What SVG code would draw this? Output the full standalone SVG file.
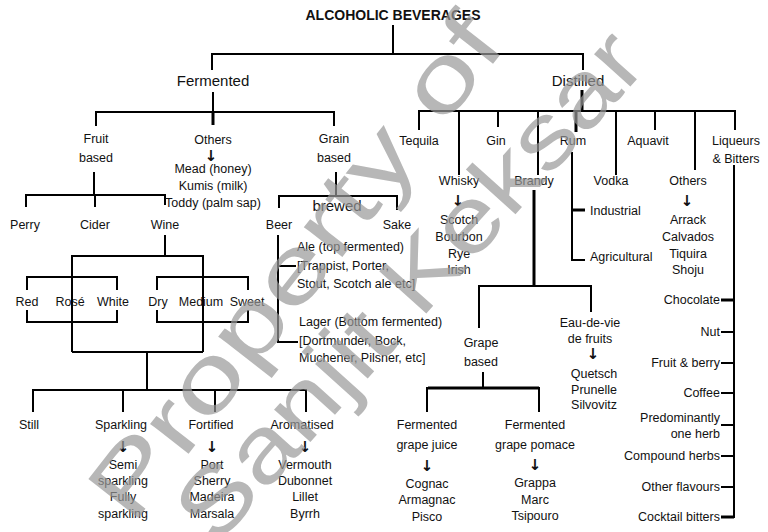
<svg xmlns="http://www.w3.org/2000/svg" width="768" height="532" viewBox="0 0 768 532">
<style>
text{font-family:"Liberation Sans",Arial,sans-serif;font-size:12.5px;fill:#111;text-anchor:middle}
.l{text-anchor:start}.r{text-anchor:end}
.big{font-size:15px}
.t{font-weight:bold;font-size:14px}
.a{font-family:"DejaVu Sans",sans-serif;font-size:15px;font-weight:bold}
.c line,.c polyline{stroke:#000;stroke-width:2;fill:none}
.c .k{stroke-width:3}
.wm{font-size:92px;fill:#999;opacity:0.7;text-anchor:start}
</style>
<rect width="768" height="532" fill="#fff"/>
<g class="c" id="connectors">
<line x1="393" y1="25" x2="393" y2="54"/>
<polyline points="212,70 212,54 583,54 583,70"/>
<line x1="213" y1="92" x2="213" y2="112"/>
<polyline points="96,126 96,112 334,112 334,126"/>
<line x1="213" y1="112" x2="213" y2="125" class="k"/>
<line x1="94" y1="172" x2="94" y2="195"/>
<polyline points="26,207 26,195 165,195 165,205"/>
<line x1="95" y1="195" x2="95" y2="207"/>
<line x1="336" y1="172" x2="336" y2="196"/>
<polyline points="279,208 279,196 397,196 397,210"/>
<polyline points="278,235 278,342 298,342"/>
<line x1="278" y1="266" x2="296" y2="266"/>
<line x1="165" y1="235" x2="165" y2="256"/>
<polyline points="72,352 72,256 203,256 203,352"/>
<polyline points="27,290 27,277 117,277 117,290"/>
<polyline points="27,310 27,322 117,322 117,310"/>
<polyline points="157,290 157,277 248,277 248,290"/>
<polyline points="157,310 157,322 248,322 248,310"/>
<line x1="72" y1="352" x2="203" y2="352"/>
<line x1="147" y1="352" x2="147" y2="390"/>
<polyline points="33,412 33,390 306,390 306,412"/>
<line x1="123" y1="390" x2="123" y2="412"/>
<line x1="215" y1="390" x2="215" y2="412"/>
<line x1="582" y1="90" x2="582" y2="111" class="k"/>
<polyline points="419,130 419,111 735,111 735,130"/>
<line x1="459" y1="111" x2="459" y2="175"/>
<line x1="498" y1="111" x2="498" y2="127"/>
<line x1="538" y1="111" x2="538" y2="175"/>
<line x1="576" y1="111" x2="576" y2="132" class="k"/>
<line x1="616" y1="111" x2="616" y2="175"/>
<line x1="655" y1="111" x2="655" y2="130"/>
<line x1="695" y1="111" x2="695" y2="170"/>
<polyline points="572,152 572,260 585,260"/>
<line x1="572" y1="210" x2="585" y2="210" class="k"/>
<line x1="534" y1="190" x2="534" y2="286" class="k"/>
<polyline points="479,328 479,286 591,286 591,312"/>
<line x1="483" y1="372" x2="483" y2="388"/>
<polyline points="427,412 427,388 539,388 539,412"/>
<line x1="428" y1="388" x2="539" y2="388" class="k"/>
<line x1="734" y1="165" x2="734" y2="518"/>
<line x1="721" y1="300" x2="734" y2="300" class="k"/>
<line x1="721" y1="332" x2="734" y2="332"/>
<line x1="721" y1="363" x2="734" y2="363"/>
<line x1="721" y1="393" x2="734" y2="393"/>
<line x1="721" y1="425" x2="734" y2="425"/>
<line x1="721" y1="456" x2="734" y2="456"/>
<line x1="721" y1="487" x2="734" y2="487"/>
<line x1="721" y1="517" x2="734" y2="517" class="k"/>
</g>
<g id="title"><text x="393" y="20" class="t">ALCOHOLIC BEVERAGES</text></g>
<g id="fermented"><text x="213" y="86" class="big">Fermented</text></g>
<g id="distilled"><text x="578" y="86" class="big">Distilled</text></g>
<g id="fruit"><text x="96" y="143">Fruit</text><text x="96" y="162">based</text></g>
<g id="others1"><text x="213" y="144">Others</text><text x="211" y="161" class="a">↓</text><text x="213" y="173">Mead (honey)</text><text x="213" y="190">Kumis (milk)</text><text x="213" y="207">Toddy (palm sap)</text></g>
<g id="grain"><text x="334" y="143">Grain</text><text x="334" y="162">based</text><text x="337" y="211" class="big">brewed</text></g>
<g id="perry"><text x="25" y="229">Perry</text></g>
<g id="cider"><text x="95" y="229">Cider</text></g>
<g id="wine"><text x="165" y="229">Wine</text></g>
<g id="beer"><text x="279" y="229">Beer</text></g>
<g id="sake"><text x="397" y="229">Sake</text></g>
<g id="ale"><text x="297" y="251" class="l">Ale (top fermented)</text><text x="297" y="270" class="l">[Trappist, Porter,</text><text x="297" y="288" class="l">Stout, Scotch ale etc]</text></g>
<g id="lager"><text x="299" y="326" class="l">Lager (Bottom fermented)</text><text x="299" y="345" class="l">[Dortmunder, Bock,</text><text x="299" y="362" class="l">Muchener, Pilsner, etc]</text></g>
<g id="colours"><text x="27" y="306">Red</text><text x="70" y="306">Rosé</text><text x="113" y="306">White</text></g>
<g id="sweetness"><text x="158" y="306">Dry</text><text x="201" y="306">Medium</text><text x="247" y="306">Sweet</text></g>
<g id="still"><text x="29" y="429">Still</text></g>
<g id="sparkling"><text x="121" y="429">Sparkling</text><text x="123" y="452" class="a">↓</text><text x="123" y="469">Semi</text><text x="123" y="485">sparkling</text><text x="123" y="501">Fully</text><text x="123" y="518">sparkling</text></g>
<g id="fortified"><text x="211" y="429">Fortified</text><text x="212" y="452" class="a">↓</text><text x="212" y="469">Port</text><text x="212" y="485">Sherry</text><text x="212" y="501">Madeira</text><text x="212" y="518">Marsala</text></g>
<g id="aromatised"><text x="302" y="429">Aromatised</text><text x="305" y="452" class="a">↓</text><text x="305" y="469">Vermouth</text><text x="305" y="485">Dubonnet</text><text x="305" y="501">Lillet</text><text x="305" y="518">Byrrh</text></g>
<g id="tequila"><text x="419" y="145">Tequila</text></g>
<g id="gin"><text x="496" y="145">Gin</text></g>
<g id="rum"><text x="573" y="145">Rum</text></g>
<g id="aquavit"><text x="648" y="145">Aquavit</text></g>
<g id="liqueurs"><text x="736" y="145">Liqueurs</text><text x="736" y="163">&amp; Bitters</text></g>
<g id="whisky"><text x="459" y="185">Whisky</text><text x="458" y="206" class="a">↓</text><text x="459" y="224">Scotch</text><text x="459" y="241">Bourbon</text><text x="459" y="258">Rye</text><text x="459" y="274">Irish</text></g>
<g id="brandy"><text x="534" y="185">Brandy</text></g>
<g id="vodka"><text x="611" y="185">Vodka</text></g>
<g id="others2"><text x="688" y="185">Others</text><text x="687" y="206" class="a">↓</text><text x="688" y="224">Arrack</text><text x="688" y="241">Calvados</text><text x="688" y="258">Tiquira</text><text x="688" y="274">Shoju</text></g>
<g id="industrial"><text x="590" y="215" class="l">Industrial</text></g>
<g id="agricultural"><text x="590" y="261" class="l">Agricultural</text></g>
<g id="eau"><text x="590" y="327">Eau-de-vie</text><text x="590" y="343">de fruits</text><text x="593" y="359" class="a">↓</text><text x="594" y="378">Quetsch</text><text x="594" y="394">Prunelle</text><text x="594" y="409">Silvovitz</text></g>
<g id="grape"><text x="481" y="347">Grape</text><text x="481" y="366">based</text></g>
<g id="juice"><text x="427" y="429">Fermented</text><text x="427" y="449">grape juice</text><text x="427" y="471" class="a">↓</text><text x="427" y="488">Cognac</text><text x="427" y="504">Armagnac</text><text x="427" y="521">Pisco</text></g>
<g id="pomace"><text x="535" y="429">Fermented</text><text x="535" y="449">grape pomace</text><text x="535" y="470" class="a">↓</text><text x="535" y="487">Grappa</text><text x="535" y="504">Marc</text><text x="535" y="520">Tsipouro</text></g>
<g id="liq-items">
<text x="720" y="304" class="r">Chocolate</text>
<text x="720" y="336" class="r">Nut</text>
<text x="720" y="367" class="r">Fruit &amp; berry</text>
<text x="720" y="397" class="r">Coffee</text>
<text x="720" y="422" class="r">Predominantly</text>
<text x="720" y="438" class="r">one herb</text>
<text x="720" y="460" class="r">Compound herbs</text>
<text x="720" y="491" class="r">Other flavours</text>
<text x="720" y="521" class="r">Cocktail  bitters</text>
</g>
<g id="watermark">
<text class="wm" transform="translate(132,526) rotate(-52)" textLength="610" lengthAdjust="spacingAndGlyphs">Property of</text>
<text class="wm" transform="translate(215,548) rotate(-48)" textLength="650" lengthAdjust="spacingAndGlyphs">Sanjit Keksar</text>
</g>
</svg>
